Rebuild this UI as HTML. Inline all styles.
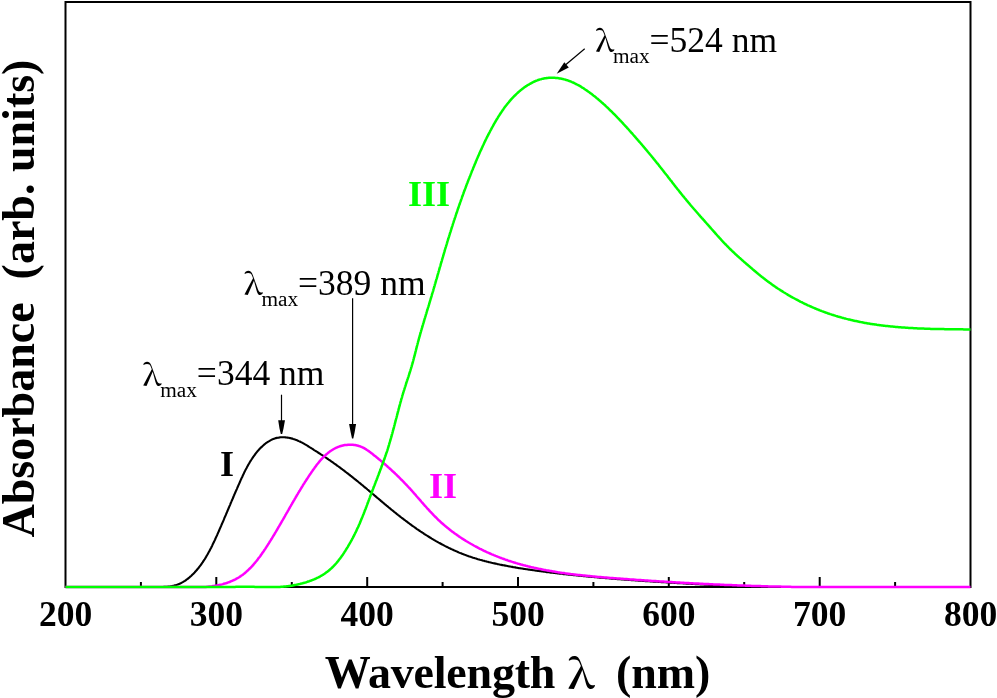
<!DOCTYPE html>
<html><head><meta charset="utf-8"><style>
html,body{margin:0;padding:0;background:#fff;}
svg{display:block;}
svg{font-family:"Liberation Serif","Times New Roman",serif;}
text{white-space:pre;}
</style></head><body>
<svg width="997" height="698" viewBox="0 0 997 698">
<rect x="0" y="0" width="997" height="698" fill="#fff"/>

<g stroke="#000" stroke-width="2" fill="none">
<path d="M65.5,588 V2 H970.5 V588"/>
<path d="M65.5,587 H970.5"/>
<line x1="140.9" y1="587" x2="140.9" y2="582.0"/><line x1="216.3" y1="587" x2="216.3" y2="577.0"/><line x1="291.8" y1="587" x2="291.8" y2="582.0"/><line x1="367.2" y1="587" x2="367.2" y2="577.0"/><line x1="442.6" y1="587" x2="442.6" y2="582.0"/><line x1="518.0" y1="587" x2="518.0" y2="577.0"/><line x1="593.4" y1="587" x2="593.4" y2="582.0"/><line x1="668.8" y1="587" x2="668.8" y2="577.0"/><line x1="744.2" y1="587" x2="744.2" y2="582.0"/><line x1="819.7" y1="587" x2="819.7" y2="577.0"/><line x1="895.1" y1="587" x2="895.1" y2="582.0"/>
</g>
<g fill="none" stroke-linejoin="round" stroke-width="2">
<path d="M65.50,587.00 L150.0,587.0 L151.0,587.0 L151.9,587.0 L152.9,587.0 L153.9,587.0 L154.9,587.0 L155.9,587.0 L156.9,587.0 L158.0,587.0 L159.0,587.0 L160.0,587.0 L161.0,587.0 L162.1,587.0 L163.1,587.0 L164.1,586.9 L165.1,586.9 L166.1,586.8 L167.2,586.7 L168.2,586.6 L169.2,586.5 L170.2,586.4 L171.2,586.2 L172.2,586.0 L173.2,585.8 L174.1,585.6 L175.1,585.3 L176.0,585.1 L177.0,584.8 L177.9,584.4 L178.8,584.1 L179.7,583.7 L180.6,583.3 L181.5,582.8 L182.3,582.4 L183.2,581.9 L184.0,581.4 L184.9,580.9 L185.7,580.3 L186.5,579.7 L187.3,579.2 L188.0,578.6 L188.8,577.9 L189.6,577.3 L190.3,576.6 L191.1,576.0 L191.8,575.3 L192.5,574.6 L193.2,573.9 L193.9,573.2 L194.6,572.5 L195.2,571.8 L195.9,571.0 L196.6,570.3 L197.2,569.5 L197.8,568.8 L198.5,568.0 L199.1,567.2 L199.7,566.4 L200.3,565.6 L200.9,564.8 L201.5,564.0 L202.0,563.2 L202.6,562.4 L203.1,561.6 L203.7,560.7 L204.2,559.9 L204.8,559.1 L205.3,558.2 L205.8,557.4 L206.3,556.5 L206.8,555.6 L207.3,554.8 L207.8,553.9 L208.3,553.0 L208.8,552.1 L209.3,551.2 L209.8,550.4 L210.2,549.5 L210.7,548.6 L211.2,547.7 L211.6,546.8 L212.1,545.9 L212.5,544.9 L212.9,544.0 L213.4,543.1 L213.8,542.2 L214.2,541.3 L214.7,540.4 L215.1,539.5 L215.5,538.5 L215.9,537.6 L216.3,536.7 L216.8,535.8 L217.2,534.9 L217.6,533.9 L218.0,533.0 L218.4,532.1 L218.8,531.2 L219.2,530.3 L219.6,529.3 L220.0,528.4 L220.4,527.5 L220.8,526.6 L221.2,525.7 L221.6,524.7 L222.0,523.8 L222.4,522.9 L222.8,522.0 L223.2,521.1 L223.6,520.2 L224.0,519.2 L224.3,518.3 L224.7,517.4 L225.1,516.5 L225.5,515.6 L225.9,514.7 L226.3,513.7 L226.7,512.8 L227.1,511.9 L227.5,511.0 L227.8,510.1 L228.2,509.2 L228.6,508.3 L229.0,507.3 L229.4,506.4 L229.8,505.5 L230.2,504.6 L230.5,503.7 L230.9,502.8 L231.3,501.9 L231.7,500.9 L232.1,500.0 L232.5,499.1 L232.9,498.2 L233.3,497.3 L233.6,496.4 L234.0,495.5 L234.4,494.5 L234.8,493.6 L235.2,492.7 L235.6,491.8 L236.0,490.9 L236.4,490.0 L236.8,489.1 L237.2,488.1 L237.6,487.2 L238.0,486.3 L238.4,485.4 L238.8,484.5 L239.2,483.6 L239.6,482.7 L240.0,481.8 L240.4,480.8 L240.8,479.9 L241.2,479.0 L241.6,478.1 L242.1,477.2 L242.5,476.3 L242.9,475.4 L243.3,474.5 L243.8,473.5 L244.2,472.6 L244.6,471.7 L245.1,470.8 L245.5,469.9 L246.0,469.0 L246.5,468.2 L246.9,467.3 L247.4,466.4 L247.9,465.5 L248.4,464.6 L248.9,463.8 L249.4,462.9 L249.9,462.0 L250.4,461.2 L251.0,460.3 L251.5,459.5 L252.1,458.6 L252.6,457.8 L253.2,457.0 L253.8,456.1 L254.4,455.3 L255.0,454.5 L255.6,453.7 L256.2,452.9 L256.8,452.1 L257.5,451.3 L258.2,450.6 L258.8,449.8 L259.5,449.1 L260.2,448.3 L260.9,447.6 L261.7,446.9 L262.4,446.2 L263.2,445.5 L263.9,444.8 L264.7,444.2 L265.5,443.5 L266.3,442.9 L267.1,442.4 L267.9,441.8 L268.8,441.3 L269.6,440.8 L270.5,440.3 L271.3,439.9 L272.2,439.4 L273.1,439.1 L274.0,438.7 L274.9,438.4 L275.8,438.1 L276.8,437.9 L277.7,437.7 L278.7,437.6 L279.6,437.4 L280.6,437.3 L281.5,437.3 L282.5,437.3 L283.5,437.3 L284.5,437.3 L285.4,437.4 L286.4,437.5 L287.4,437.6 L288.4,437.8 L289.4,437.9 L290.3,438.1 L291.3,438.4 L292.3,438.6 L293.2,438.9 L294.2,439.2 L295.1,439.6 L296.1,439.9 L297.0,440.3 L297.9,440.7 L298.8,441.1 L299.8,441.5 L300.7,442.0 L301.6,442.4 L302.5,442.9 L303.4,443.4 L304.3,443.9 L305.1,444.4 L306.0,444.9 L306.9,445.4 L307.8,446.0 L308.6,446.5 L309.5,447.1 L310.4,447.6 L311.2,448.1 L312.1,448.7 L312.9,449.2 L313.8,449.8 L314.6,450.3 L315.5,450.8 L316.3,451.4 L317.2,451.9 L318.0,452.5 L318.8,453.0 L319.7,453.5 L320.5,454.1 L321.3,454.6 L322.2,455.2 L323.0,455.7 L323.8,456.3 L324.6,456.8 L325.5,457.4 L326.3,457.9 L327.1,458.5 L327.9,459.0 L328.7,459.6 L329.5,460.1 L330.4,460.7 L331.2,461.3 L332.0,461.8 L332.8,462.4 L333.6,463.0 L334.4,463.6 L335.2,464.1 L336.0,464.7 L336.8,465.3 L337.6,465.9 L338.5,466.5 L339.3,467.1 L340.1,467.7 L340.9,468.3 L341.7,468.9 L342.5,469.5 L343.3,470.1 L344.1,470.7 L344.9,471.3 L345.6,471.9 L346.4,472.5 L347.2,473.1 L348.0,473.7 L348.8,474.3 L349.6,474.9 L350.4,475.6 L351.2,476.2 L352.0,476.8 L352.8,477.4 L353.5,478.1 L354.3,478.7 L355.1,479.3 L355.9,479.9 L356.7,480.6 L357.5,481.2 L358.2,481.8 L359.0,482.5 L359.8,483.1 L360.6,483.7 L361.3,484.4 L362.1,485.0 L362.9,485.6 L363.6,486.3 L364.4,486.9 L365.2,487.6 L366.0,488.2 L366.7,488.8 L367.5,489.5 L368.3,490.1 L369.0,490.8 L369.8,491.4 L370.5,492.1 L371.3,492.7 L372.1,493.3 L372.8,494.0 L373.6,494.6 L374.3,495.3 L375.1,495.9 L375.9,496.6 L376.6,497.2 L377.4,497.9 L378.2,498.5 L378.9,499.1 L379.7,499.8 L380.4,500.4 L381.2,501.1 L382.0,501.7 L382.7,502.4 L383.5,503.0 L384.2,503.6 L385.0,504.3 L385.8,504.9 L386.5,505.6 L387.3,506.2 L388.1,506.8 L388.8,507.5 L389.6,508.1 L390.4,508.7 L391.1,509.4 L391.9,510.0 L392.7,510.6 L393.5,511.3 L394.2,511.9 L395.0,512.5 L395.8,513.1 L396.6,513.8 L397.4,514.4 L398.1,515.0 L398.9,515.6 L399.7,516.2 L400.5,516.9 L401.3,517.5 L402.1,518.1 L402.9,518.7 L403.7,519.3 L404.5,519.9 L405.3,520.5 L406.1,521.1 L406.9,521.7 L407.7,522.3 L408.5,522.9 L409.3,523.5 L410.1,524.1 L410.9,524.7 L411.7,525.3 L412.5,525.9 L413.3,526.4 L414.2,527.0 L415.0,527.6 L415.8,528.2 L416.6,528.8 L417.4,529.3 L418.3,529.9 L419.1,530.5 L419.9,531.0 L420.8,531.6 L421.6,532.1 L422.4,532.7 L423.3,533.2 L424.1,533.8 L424.9,534.3 L425.8,534.9 L426.6,535.4 L427.5,535.9 L428.3,536.5 L429.2,537.0 L430.0,537.5 L430.9,538.0 L431.7,538.6 L432.6,539.1 L433.5,539.6 L434.3,540.1 L435.2,540.6 L436.0,541.1 L436.9,541.6 L437.8,542.1 L438.7,542.6 L439.5,543.0 L440.4,543.5 L441.3,544.0 L442.2,544.5 L443.0,544.9 L443.9,545.4 L444.8,545.9 L445.7,546.3 L446.6,546.8 L447.5,547.2 L448.4,547.7 L449.3,548.1 L450.2,548.5 L451.1,549.0 L452.0,549.4 L452.9,549.8 L453.8,550.2 L454.7,550.6 L455.6,551.0 L456.5,551.4 L457.4,551.8 L458.3,552.2 L459.2,552.6 L460.2,553.0 L461.1,553.3 L462.0,553.7 L462.9,554.1 L463.8,554.4 L464.8,554.8 L465.7,555.1 L466.6,555.5 L467.6,555.8 L468.5,556.2 L469.5,556.5 L470.4,556.8 L471.3,557.1 L472.3,557.4 L473.2,557.7 L474.2,558.0 L475.1,558.3 L476.1,558.6 L477.1,558.9 L478.0,559.2 L479.0,559.5 L479.9,559.8 L480.9,560.0 L481.9,560.3 L482.8,560.6 L483.8,560.8 L484.7,561.1 L485.7,561.3 L486.7,561.6 L487.7,561.8 L488.6,562.1 L489.6,562.3 L490.6,562.5 L491.6,562.8 L492.5,563.0 L493.5,563.2 L494.5,563.4 L495.5,563.6 L496.4,563.8 L497.4,564.1 L498.4,564.3 L499.4,564.5 L500.4,564.7 L501.4,564.9 L502.3,565.1 L503.3,565.3 L504.3,565.4 L505.3,565.6 L506.3,565.8 L507.3,566.0 L508.3,566.2 L509.3,566.4 L510.2,566.5 L511.2,566.7 L512.2,566.9 L513.2,567.1 L514.2,567.2 L515.2,567.4 L516.2,567.6 L517.2,567.7 L518.1,567.9 L519.1,568.1 L520.1,568.2 L521.1,568.4 L522.1,568.5 L523.1,568.7 L524.1,568.9 L525.1,569.0 L526.1,569.2 L527.0,569.3 L528.0,569.5 L529.0,569.6 L530.0,569.8 L531.0,569.9 L532.0,570.0 L533.0,570.2 L534.0,570.3 L535.0,570.5 L536.0,570.6 L536.9,570.7 L537.9,570.9 L538.9,571.0 L539.9,571.1 L540.9,571.3 L541.9,571.4 L542.9,571.5 L543.9,571.7 L544.9,571.8 L545.9,571.9 L546.8,572.1 L547.8,572.2 L548.8,572.3 L549.8,572.4 L550.8,572.6 L551.8,572.7 L552.8,572.8 L553.8,572.9 L554.8,573.0 L555.8,573.1 L556.8,573.3 L557.7,573.4 L558.7,573.5 L559.7,573.6 L560.7,573.7 L561.7,573.8 L562.7,573.9 L563.7,574.1 L564.7,574.2 L565.7,574.3 L566.7,574.4 L567.7,574.5 L568.7,574.6 L569.6,574.7 L570.6,574.8 L571.6,574.9 L572.6,575.0 L573.6,575.1 L574.6,575.2 L575.6,575.3 L576.6,575.4 L577.6,575.5 L578.6,575.6 L579.6,575.7 L580.6,575.8 L581.6,575.9 L582.6,576.0 L583.6,576.1 L584.6,576.2 L585.5,576.3 L586.5,576.4 L587.5,576.5 L588.5,576.6 L589.5,576.7 L590.5,576.8 L591.5,576.9 L592.5,577.0 L593.5,577.0 L594.5,577.1 L595.5,577.2 L596.5,577.3 L597.5,577.4 L598.5,577.5 L599.5,577.6 L600.5,577.7 L601.5,577.7 L602.5,577.8 L603.5,577.9 L604.5,578.0 L605.5,578.1 L606.5,578.2 L607.4,578.3 L608.4,578.3 L609.4,578.4 L610.4,578.5 L611.4,578.6 L612.4,578.7 L613.4,578.7 L614.4,578.8 L615.4,578.9 L616.4,579.0 L617.4,579.1 L618.4,579.1 L619.4,579.2 L620.4,579.3 L621.4,579.4 L622.4,579.4 L623.4,579.5 L624.4,579.6 L625.4,579.7 L626.4,579.7 L627.4,579.8 L628.4,579.9 L629.4,580.0 L630.4,580.0 L631.4,580.1 L632.4,580.2 L633.4,580.2 L634.4,580.3 L635.4,580.4 L636.4,580.4 L637.4,580.5 L638.4,580.6 L639.4,580.7 L640.4,580.7 L641.4,580.8 L642.4,580.9 L643.4,580.9 L644.4,581.0 L645.4,581.1 L646.4,581.1 L647.4,581.2 L648.3,581.3 L649.3,581.3 L650.3,581.4 L651.3,581.5 L652.3,581.5 L653.3,581.6 L654.3,581.6 L655.3,581.7 L656.3,581.8 L657.3,581.8 L658.3,581.9 L659.3,582.0 L660.3,582.0 L661.3,582.1 L662.3,582.1 L663.3,582.2 L664.3,582.3 L665.3,582.3 L666.3,582.4 L667.3,582.5 L668.3,582.5 L669.3,582.6 L670.3,582.6 L671.3,582.7 L672.3,582.8 L673.3,582.8 L674.3,582.9 L675.3,582.9 L676.3,583.0 L677.3,583.1 L678.3,583.1 L679.3,583.2 L680.3,583.2 L681.3,583.3 L682.3,583.3 L683.3,583.4 L684.3,583.5 L685.3,583.5 L686.3,583.6 L687.3,583.6 L688.3,583.7 L689.3,583.7 L690.3,583.8 L691.3,583.9 L692.3,583.9 L693.3,584.0 L694.3,584.0 L695.3,584.1 L696.3,584.1 L697.3,584.2 L698.3,584.3 L699.3,584.3 L700.3,584.4 L701.3,584.4 L702.3,584.5 L703.3,584.5 L704.3,584.6 L705.3,584.6 L706.3,584.7 L707.3,584.8 L708.3,584.8 L709.3,584.9 L710.3,584.9 L711.3,585.0 L712.3,585.0 L713.2,585.1 L714.2,585.1 L715.2,585.2 L716.2,585.2 L717.2,585.3 L718.2,585.3 L719.2,585.4 L720.2,585.4 L721.2,585.5 L722.2,585.5 L723.2,585.6 L724.2,585.6 L725.2,585.7 L726.2,585.7 L727.2,585.8 L728.2,585.8 L729.2,585.9 L730.2,585.9 L731.2,586.0 L732.2,586.0 L733.2,586.0 L734.2,586.1 L735.2,586.1 L736.2,586.2 L737.2,586.2 L738.2,586.2 L739.2,586.3 L740.2,586.3 L741.2,586.4 L742.2,586.4 L743.2,586.4 L744.2,586.5 L745.2,586.5 L746.2,586.5 L747.2,586.6 L748.2,586.6 L749.2,586.6 L750.2,586.7 L751.2,586.7 L752.2,586.7 L753.2,586.7 L754.2,586.8 L755.2,586.8 L756.2,586.8 L757.2,586.8 L758.2,586.8 L759.2,586.9 L760.2,586.9 L761.2,586.9 L762.2,586.9 L763.2,586.9 L764.2,586.9 L765.2,587.0 L766.2,587.0 L767.2,587.0 L768.2,587.0 L769.2,587.0 L770.2,587.0 L771.2,587.0 L772.2,587.0 L773.2,587.0 L774.2,587.0 L775.0,587.0 L970.50,587.00" stroke="#000" stroke-width="2.1"/>
<path d="M65.50,587.00 L190.0,587.0 L191.0,587.0 L192.0,587.0 L192.9,587.0 L193.9,587.0 L194.9,587.0 L195.9,587.0 L196.9,587.0 L197.9,587.0 L198.9,587.0 L199.9,587.0 L200.9,587.0 L201.9,587.0 L203.0,587.0 L204.0,587.0 L205.0,587.0 L206.0,586.9 L207.0,586.8 L208.0,586.7 L209.0,586.6 L210.0,586.5 L211.0,586.4 L212.0,586.3 L213.0,586.1 L214.0,586.0 L215.0,585.8 L216.0,585.7 L217.0,585.5 L218.0,585.3 L219.0,585.1 L220.0,584.8 L220.9,584.6 L221.9,584.4 L222.9,584.1 L223.8,583.8 L224.8,583.6 L225.8,583.3 L226.7,583.0 L227.6,582.6 L228.6,582.3 L229.5,582.0 L230.4,581.6 L231.3,581.2 L232.2,580.8 L233.1,580.4 L234.0,580.0 L234.9,579.6 L235.8,579.1 L236.6,578.6 L237.5,578.2 L238.3,577.7 L239.1,577.2 L240.0,576.6 L240.8,576.1 L241.6,575.5 L242.4,575.0 L243.2,574.4 L243.9,573.8 L244.7,573.2 L245.5,572.5 L246.2,571.9 L246.9,571.2 L247.7,570.6 L248.4,569.9 L249.1,569.2 L249.8,568.5 L250.5,567.8 L251.2,567.1 L251.9,566.4 L252.6,565.6 L253.2,564.9 L253.9,564.1 L254.5,563.3 L255.2,562.6 L255.8,561.8 L256.5,561.0 L257.1,560.2 L257.7,559.4 L258.3,558.6 L258.9,557.8 L259.6,557.0 L260.2,556.2 L260.8,555.3 L261.3,554.5 L261.9,553.7 L262.5,552.8 L263.1,552.0 L263.7,551.2 L264.2,550.3 L264.8,549.5 L265.4,548.6 L265.9,547.8 L266.5,546.9 L267.0,546.1 L267.6,545.2 L268.1,544.4 L268.7,543.5 L269.2,542.7 L269.7,541.8 L270.3,540.9 L270.8,540.1 L271.3,539.2 L271.9,538.4 L272.4,537.5 L272.9,536.7 L273.4,535.8 L274.0,535.0 L274.5,534.1 L275.0,533.2 L275.5,532.4 L276.0,531.5 L276.5,530.7 L277.0,529.8 L277.5,529.0 L278.0,528.1 L278.5,527.2 L279.0,526.4 L279.5,525.5 L280.0,524.7 L280.5,523.8 L281.0,523.0 L281.5,522.1 L282.0,521.2 L282.5,520.4 L283.0,519.5 L283.5,518.7 L284.0,517.8 L284.5,516.9 L285.0,516.1 L285.4,515.2 L285.9,514.4 L286.4,513.5 L286.9,512.6 L287.4,511.8 L287.9,510.9 L288.4,510.1 L288.9,509.2 L289.4,508.4 L289.8,507.5 L290.3,506.6 L290.8,505.8 L291.3,504.9 L291.8,504.1 L292.3,503.2 L292.8,502.3 L293.3,501.5 L293.8,500.6 L294.3,499.8 L294.8,498.9 L295.3,498.1 L295.8,497.2 L296.3,496.3 L296.8,495.5 L297.3,494.6 L297.8,493.8 L298.3,492.9 L298.8,492.1 L299.3,491.2 L299.9,490.4 L300.4,489.5 L300.9,488.7 L301.4,487.8 L301.9,487.0 L302.5,486.1 L303.0,485.2 L303.5,484.4 L304.1,483.5 L304.6,482.7 L305.1,481.8 L305.7,481.0 L306.2,480.2 L306.8,479.3 L307.3,478.5 L307.9,477.6 L308.4,476.8 L309.0,475.9 L309.5,475.1 L310.1,474.2 L310.7,473.4 L311.3,472.5 L311.8,471.7 L312.4,470.9 L313.0,470.0 L313.6,469.2 L314.2,468.4 L314.8,467.5 L315.4,466.7 L316.0,465.9 L316.6,465.1 L317.2,464.3 L317.9,463.5 L318.5,462.7 L319.1,461.9 L319.8,461.1 L320.5,460.3 L321.1,459.6 L321.8,458.8 L322.5,458.1 L323.2,457.4 L323.9,456.7 L324.6,456.0 L325.3,455.3 L326.0,454.7 L326.7,454.0 L327.5,453.4 L328.2,452.8 L329.0,452.2 L329.8,451.6 L330.6,451.0 L331.4,450.5 L332.2,450.0 L333.0,449.5 L333.8,449.0 L334.7,448.5 L335.5,448.1 L336.4,447.7 L337.3,447.3 L338.2,446.9 L339.1,446.6 L340.0,446.3 L340.9,446.0 L341.9,445.7 L342.9,445.5 L343.8,445.3 L344.8,445.1 L345.8,445.0 L346.9,444.9 L347.9,444.8 L348.9,444.7 L349.9,444.7 L351.0,444.7 L352.0,444.8 L353.0,444.8 L354.0,444.9 L355.1,445.1 L356.1,445.3 L357.1,445.5 L358.1,445.7 L359.0,446.0 L360.0,446.3 L360.9,446.7 L361.8,447.0 L362.7,447.5 L363.6,447.9 L364.5,448.4 L365.3,448.9 L366.2,449.4 L367.0,450.0 L367.8,450.5 L368.7,451.1 L369.5,451.7 L370.3,452.3 L371.1,452.9 L371.9,453.5 L372.7,454.1 L373.4,454.8 L374.2,455.4 L375.0,456.0 L375.8,456.6 L376.6,457.3 L377.4,457.9 L378.1,458.5 L378.9,459.2 L379.7,459.8 L380.4,460.4 L381.2,461.1 L382.0,461.7 L382.7,462.4 L383.5,463.0 L384.2,463.7 L385.0,464.3 L385.8,465.0 L386.5,465.6 L387.3,466.3 L388.0,467.0 L388.7,467.6 L389.5,468.3 L390.2,469.0 L391.0,469.6 L391.7,470.3 L392.4,471.0 L393.2,471.7 L393.9,472.3 L394.6,473.0 L395.3,473.7 L396.1,474.4 L396.8,475.1 L397.5,475.8 L398.2,476.5 L398.9,477.2 L399.6,477.9 L400.3,478.6 L401.0,479.3 L401.7,480.0 L402.4,480.7 L403.1,481.4 L403.8,482.1 L404.5,482.9 L405.2,483.6 L405.9,484.3 L406.6,485.0 L407.3,485.8 L408.0,486.5 L408.6,487.2 L409.3,488.0 L410.0,488.7 L410.7,489.4 L411.3,490.2 L412.0,490.9 L412.7,491.7 L413.3,492.4 L414.0,493.2 L414.6,493.9 L415.3,494.7 L416.0,495.4 L416.6,496.2 L417.3,497.0 L417.9,497.7 L418.6,498.5 L419.3,499.2 L419.9,500.0 L420.6,500.7 L421.2,501.5 L421.9,502.3 L422.6,503.0 L423.2,503.8 L423.9,504.5 L424.5,505.3 L425.2,506.0 L425.9,506.8 L426.5,507.5 L427.2,508.3 L427.9,509.0 L428.6,509.7 L429.2,510.5 L429.9,511.2 L430.6,512.0 L431.3,512.7 L432.0,513.4 L432.7,514.1 L433.4,514.9 L434.1,515.6 L434.8,516.3 L435.5,517.0 L436.2,517.7 L436.9,518.4 L437.6,519.1 L438.3,519.8 L439.0,520.5 L439.8,521.1 L440.5,521.8 L441.2,522.5 L442.0,523.2 L442.7,523.8 L443.5,524.5 L444.2,525.1 L445.0,525.8 L445.8,526.4 L446.5,527.1 L447.3,527.7 L448.1,528.3 L448.9,528.9 L449.6,529.6 L450.4,530.2 L451.2,530.8 L452.0,531.4 L452.8,532.0 L453.6,532.6 L454.4,533.2 L455.2,533.8 L456.0,534.3 L456.9,534.9 L457.7,535.5 L458.5,536.1 L459.3,536.6 L460.2,537.2 L461.0,537.7 L461.8,538.3 L462.7,538.8 L463.5,539.4 L464.3,539.9 L465.2,540.4 L466.0,541.0 L466.9,541.5 L467.8,542.0 L468.6,542.5 L469.5,543.0 L470.3,543.5 L471.2,544.0 L472.1,544.5 L473.0,545.0 L473.8,545.5 L474.7,546.0 L475.6,546.5 L476.5,546.9 L477.4,547.4 L478.2,547.9 L479.1,548.3 L480.0,548.8 L480.9,549.2 L481.8,549.7 L482.7,550.1 L483.6,550.6 L484.5,551.0 L485.4,551.4 L486.3,551.8 L487.3,552.3 L488.2,552.7 L489.1,553.1 L490.0,553.5 L490.9,553.9 L491.8,554.3 L492.8,554.7 L493.7,555.1 L494.6,555.4 L495.5,555.8 L496.5,556.2 L497.4,556.6 L498.3,556.9 L499.3,557.3 L500.2,557.7 L501.1,558.0 L502.1,558.4 L503.0,558.7 L503.9,559.0 L504.9,559.4 L505.8,559.7 L506.8,560.0 L507.7,560.4 L508.6,560.7 L509.6,561.0 L510.5,561.3 L511.5,561.6 L512.4,561.9 L513.4,562.2 L514.3,562.5 L515.3,562.8 L516.2,563.1 L517.2,563.4 L518.2,563.7 L519.1,563.9 L520.1,564.2 L521.0,564.5 L522.0,564.7 L522.9,565.0 L523.9,565.3 L524.9,565.5 L525.8,565.8 L526.8,566.0 L527.8,566.3 L528.7,566.5 L529.7,566.7 L530.7,567.0 L531.6,567.2 L532.6,567.4 L533.6,567.6 L534.5,567.9 L535.5,568.1 L536.5,568.3 L537.4,568.5 L538.4,568.7 L539.4,568.9 L540.4,569.1 L541.3,569.3 L542.3,569.5 L543.3,569.7 L544.3,569.9 L545.3,570.1 L546.2,570.3 L547.2,570.4 L548.2,570.6 L549.2,570.8 L550.2,571.0 L551.1,571.1 L552.1,571.3 L553.1,571.5 L554.1,571.6 L555.1,571.8 L556.1,572.0 L557.1,572.1 L558.0,572.3 L559.0,572.4 L560.0,572.6 L561.0,572.7 L562.0,572.9 L563.0,573.0 L564.0,573.1 L565.0,573.3 L566.0,573.4 L566.9,573.6 L567.9,573.7 L568.9,573.8 L569.9,573.9 L570.9,574.1 L571.9,574.2 L572.9,574.3 L573.9,574.4 L574.9,574.5 L575.9,574.7 L576.9,574.8 L577.9,574.9 L578.9,575.0 L579.9,575.1 L580.9,575.2 L581.9,575.3 L582.9,575.4 L583.9,575.5 L584.9,575.6 L585.9,575.7 L586.9,575.8 L587.9,575.9 L588.8,576.0 L589.8,576.1 L590.8,576.2 L591.8,576.3 L592.8,576.4 L593.8,576.5 L594.8,576.6 L595.8,576.7 L596.8,576.8 L597.8,576.9 L598.8,577.0 L599.8,577.0 L600.8,577.1 L601.8,577.2 L602.8,577.3 L603.8,577.4 L604.8,577.5 L605.8,577.5 L606.8,577.6 L607.9,577.7 L608.9,577.8 L609.9,577.9 L610.9,577.9 L611.9,578.0 L612.9,578.1 L613.9,578.2 L614.9,578.2 L615.9,578.3 L616.9,578.4 L617.9,578.5 L618.9,578.5 L619.9,578.6 L620.9,578.7 L621.9,578.8 L622.9,578.8 L623.9,578.9 L624.9,579.0 L625.9,579.1 L626.9,579.1 L627.9,579.2 L628.9,579.3 L629.9,579.4 L630.9,579.4 L631.8,579.5 L632.8,579.6 L633.8,579.6 L634.8,579.7 L635.8,579.8 L636.8,579.9 L637.8,579.9 L638.8,580.0 L639.8,580.1 L640.8,580.1 L641.8,580.2 L642.8,580.3 L643.8,580.3 L644.8,580.4 L645.8,580.5 L646.8,580.5 L647.8,580.6 L648.8,580.7 L649.8,580.7 L650.8,580.8 L651.8,580.9 L652.8,580.9 L653.8,581.0 L654.8,581.1 L655.8,581.1 L656.8,581.2 L657.8,581.3 L658.8,581.3 L659.8,581.4 L660.8,581.5 L661.8,581.5 L662.8,581.6 L663.8,581.6 L664.8,581.7 L665.8,581.8 L666.8,581.8 L667.8,581.9 L668.8,582.0 L669.8,582.0 L670.8,582.1 L671.8,582.1 L672.8,582.2 L673.8,582.3 L674.8,582.3 L675.8,582.4 L676.8,582.4 L677.7,582.5 L678.7,582.5 L679.7,582.6 L680.7,582.7 L681.7,582.7 L682.7,582.8 L683.7,582.8 L684.7,582.9 L685.7,582.9 L686.7,583.0 L687.7,583.1 L688.7,583.1 L689.7,583.2 L690.7,583.2 L691.7,583.3 L692.7,583.3 L693.7,583.4 L694.7,583.4 L695.7,583.5 L696.7,583.5 L697.7,583.6 L698.7,583.6 L699.7,583.7 L700.7,583.7 L701.7,583.8 L702.7,583.8 L703.7,583.9 L704.7,583.9 L705.7,584.0 L706.7,584.0 L707.7,584.1 L708.7,584.1 L709.6,584.2 L710.6,584.2 L711.6,584.3 L712.6,584.3 L713.6,584.4 L714.6,584.4 L715.6,584.5 L716.6,584.5 L717.6,584.5 L718.6,584.6 L719.6,584.6 L720.6,584.7 L721.6,584.7 L722.6,584.8 L723.6,584.8 L724.6,584.9 L725.6,584.9 L726.6,584.9 L727.6,585.0 L728.6,585.0 L729.6,585.1 L730.6,585.1 L731.6,585.1 L732.6,585.2 L733.6,585.2 L734.6,585.3 L735.6,585.3 L736.6,585.3 L737.6,585.4 L738.6,585.4 L739.6,585.4 L740.6,585.5 L741.6,585.5 L742.6,585.6 L743.6,585.6 L744.6,585.6 L745.6,585.7 L746.6,585.7 L747.6,585.7 L748.6,585.8 L749.6,585.8 L750.6,585.8 L751.6,585.9 L752.6,585.9 L753.6,585.9 L754.6,586.0 L755.6,586.0 L756.6,586.0 L757.6,586.1 L758.5,586.1 L759.5,586.1 L760.5,586.1 L761.5,586.2 L762.5,586.2 L763.5,586.2 L764.5,586.3 L765.5,586.3 L766.5,586.3 L767.5,586.3 L768.5,586.4 L769.5,586.4 L770.5,586.4 L771.5,586.4 L772.5,586.5 L773.5,586.5 L774.6,586.5 L775.6,586.5 L776.6,586.6 L777.6,586.6 L778.6,586.6 L779.6,586.6 L780.6,586.6 L781.6,586.7 L782.6,586.7 L783.6,586.7 L784.6,586.7 L785.6,586.8 L786.6,586.8 L787.6,586.8 L788.6,586.8 L789.6,586.8 L790.6,586.8 L791.6,586.9 L792.6,586.9 L793.6,586.9 L794.6,586.9 L795.6,586.9 L796.6,586.9 L797.0,586.9 L970.50,587.00" stroke="#f0f" stroke-width="2.5"/>
<path d="M65.50,587.00 L200.0,587.0 L201.0,587.0 L202.0,587.0 L203.0,587.0 L204.0,587.0 L205.0,587.0 L206.0,587.0 L207.0,587.0 L208.0,587.0 L209.0,587.0 L210.0,587.0 L211.0,587.0 L212.0,587.0 L213.0,587.0 L214.0,587.0 L215.0,587.0 L216.0,587.0 L217.0,587.0 L218.0,587.0 L219.0,587.0 L220.0,587.0 L221.0,587.0 L222.0,587.0 L223.0,587.0 L224.0,587.0 L225.0,586.9 L226.0,586.9 L227.0,586.9 L228.0,586.9 L229.0,586.9 L230.0,586.9 L231.0,586.9 L232.0,586.9 L233.0,586.9 L234.0,586.9 L235.0,586.9 L236.0,586.8 L237.0,586.8 L238.0,586.8 L239.0,586.8 L240.0,586.8 L241.0,586.8 L242.0,586.8 L243.0,586.8 L244.0,586.8 L245.0,586.8 L246.0,586.8 L247.0,586.8 L248.0,586.8 L249.0,586.8 L250.0,586.8 L251.0,586.8 L252.0,586.8 L253.0,586.8 L254.0,586.8 L255.0,586.9 L256.0,586.9 L257.0,586.9 L258.0,586.9 L259.0,586.9 L260.0,586.9 L261.0,587.0 L262.0,587.0 L263.0,587.0 L264.0,587.0 L265.0,587.0 L266.0,587.0 L267.0,587.0 L268.0,587.0 L269.0,587.0 L270.0,587.0 L271.0,587.0 L272.0,587.0 L273.0,587.0 L274.0,587.0 L275.0,587.0 L276.0,587.0 L277.0,587.0 L278.0,587.0 L279.0,586.9 L280.0,586.9 L281.0,586.8 L282.0,586.8 L283.0,586.7 L283.9,586.6 L284.9,586.5 L285.9,586.4 L286.9,586.3 L287.9,586.2 L288.9,586.1 L289.9,586.0 L290.8,585.8 L291.8,585.7 L292.8,585.5 L293.8,585.3 L294.8,585.1 L295.7,584.9 L296.7,584.7 L297.7,584.5 L298.7,584.3 L299.6,584.1 L300.6,583.8 L301.6,583.6 L302.6,583.3 L303.5,583.0 L304.5,582.7 L305.4,582.5 L306.4,582.2 L307.4,581.8 L308.3,581.5 L309.3,581.2 L310.2,580.8 L311.2,580.5 L312.1,580.1 L313.0,579.8 L314.0,579.4 L314.9,579.0 L315.8,578.6 L316.7,578.1 L317.6,577.7 L318.5,577.3 L319.4,576.8 L320.3,576.3 L321.1,575.8 L322.0,575.3 L322.8,574.8 L323.7,574.3 L324.5,573.8 L325.3,573.2 L326.1,572.6 L326.9,572.0 L327.7,571.4 L328.5,570.8 L329.2,570.2 L330.0,569.5 L330.7,568.9 L331.5,568.2 L332.2,567.5 L332.9,566.8 L333.6,566.1 L334.3,565.4 L335.0,564.7 L335.6,564.0 L336.3,563.2 L336.9,562.4 L337.6,561.7 L338.2,560.9 L338.8,560.1 L339.4,559.3 L340.1,558.5 L340.6,557.7 L341.2,556.9 L341.8,556.1 L342.4,555.2 L343.0,554.4 L343.5,553.6 L344.1,552.7 L344.6,551.9 L345.2,551.0 L345.7,550.2 L346.2,549.3 L346.8,548.5 L347.3,547.6 L347.8,546.8 L348.3,545.9 L348.8,545.0 L349.3,544.2 L349.8,543.3 L350.3,542.4 L350.8,541.6 L351.3,540.7 L351.8,539.8 L352.2,538.9 L352.7,538.1 L353.2,537.2 L353.6,536.3 L354.1,535.4 L354.5,534.5 L355.0,533.6 L355.4,532.7 L355.9,531.8 L356.3,530.9 L356.7,530.0 L357.1,529.1 L357.5,528.2 L358.0,527.3 L358.4,526.4 L358.8,525.5 L359.2,524.6 L359.6,523.7 L360.0,522.7 L360.4,521.8 L360.7,520.9 L361.1,520.0 L361.5,519.1 L361.9,518.1 L362.3,517.2 L362.6,516.3 L363.0,515.4 L363.4,514.4 L363.8,513.5 L364.1,512.6 L364.5,511.7 L364.8,510.7 L365.2,509.8 L365.6,508.9 L365.9,507.9 L366.3,507.0 L366.6,506.1 L367.0,505.1 L367.3,504.2 L367.7,503.3 L368.0,502.3 L368.4,501.4 L368.7,500.4 L369.1,499.5 L369.4,498.6 L369.8,497.6 L370.1,496.7 L370.5,495.8 L370.8,494.8 L371.2,493.9 L371.5,493.0 L371.9,492.0 L372.3,491.1 L372.6,490.1 L373.0,489.2 L373.3,488.3 L373.7,487.3 L374.0,486.4 L374.4,485.5 L374.8,484.5 L375.1,483.6 L375.5,482.7 L375.8,481.7 L376.2,480.8 L376.6,479.9 L376.9,478.9 L377.3,478.0 L377.6,477.1 L378.0,476.1 L378.4,475.2 L378.7,474.3 L379.1,473.3 L379.4,472.4 L379.8,471.5 L380.1,470.5 L380.5,469.6 L380.8,468.7 L381.2,467.7 L381.5,466.8 L381.9,465.8 L382.2,464.9 L382.6,464.0 L382.9,463.0 L383.3,462.1 L383.6,461.1 L383.9,460.2 L384.3,459.3 L384.6,458.3 L384.9,457.4 L385.3,456.4 L385.6,455.5 L385.9,454.5 L386.2,453.6 L386.5,452.7 L386.9,451.7 L387.2,450.8 L387.5,449.8 L387.8,448.9 L388.1,447.9 L388.4,446.9 L388.7,446.0 L389.0,445.0 L389.2,444.1 L389.5,443.1 L389.8,442.2 L390.1,441.2 L390.4,440.2 L390.6,439.3 L390.9,438.3 L391.2,437.4 L391.5,436.4 L391.7,435.4 L392.0,434.5 L392.3,433.5 L392.5,432.5 L392.8,431.6 L393.0,430.6 L393.3,429.6 L393.6,428.7 L393.8,427.7 L394.1,426.8 L394.3,425.8 L394.6,424.8 L394.8,423.8 L395.1,422.9 L395.3,421.9 L395.6,420.9 L395.8,420.0 L396.1,419.0 L396.4,418.0 L396.6,417.1 L396.9,416.1 L397.1,415.1 L397.4,414.2 L397.6,413.2 L397.9,412.2 L398.1,411.3 L398.4,410.3 L398.6,409.3 L398.9,408.4 L399.1,407.4 L399.4,406.4 L399.7,405.5 L399.9,404.5 L400.2,403.5 L400.4,402.6 L400.7,401.6 L401.0,400.6 L401.2,399.7 L401.5,398.7 L401.8,397.8 L402.1,396.8 L402.3,395.8 L402.6,394.9 L402.9,393.9 L403.2,393.0 L403.5,392.0 L403.8,391.0 L404.1,390.1 L404.4,389.1 L404.7,388.2 L405.0,387.2 L405.3,386.3 L405.6,385.3 L405.9,384.4 L406.2,383.4 L406.5,382.5 L406.8,381.5 L407.1,380.6 L407.4,379.6 L407.8,378.7 L408.1,377.7 L408.4,376.8 L408.7,375.8 L409.0,374.9 L409.3,373.9 L409.6,373.0 L409.9,372.0 L410.2,371.1 L410.5,370.1 L410.8,369.2 L411.1,368.2 L411.4,367.2 L411.7,366.3 L411.9,365.3 L412.2,364.4 L412.5,363.4 L412.8,362.4 L413.0,361.5 L413.3,360.5 L413.5,359.5 L413.8,358.6 L414.0,357.6 L414.3,356.6 L414.6,355.7 L414.8,354.7 L415.1,353.7 L415.3,352.8 L415.5,351.8 L415.8,350.8 L416.0,349.9 L416.3,348.9 L416.5,347.9 L416.8,346.9 L417.0,346.0 L417.3,345.0 L417.5,344.0 L417.8,343.1 L418.0,342.1 L418.3,341.1 L418.6,340.2 L418.8,339.2 L419.1,338.2 L419.3,337.3 L419.6,336.3 L419.9,335.4 L420.1,334.4 L420.4,333.4 L420.7,332.5 L421.0,331.5 L421.2,330.5 L421.5,329.6 L421.8,328.6 L422.1,327.7 L422.4,326.7 L422.6,325.7 L422.9,324.8 L423.2,323.8 L423.5,322.9 L423.8,321.9 L424.1,320.9 L424.3,320.0 L424.6,319.0 L424.9,318.1 L425.2,317.1 L425.5,316.2 L425.8,315.2 L426.1,314.2 L426.4,313.3 L426.6,312.3 L426.9,311.4 L427.2,310.4 L427.5,309.5 L427.8,308.5 L428.1,307.5 L428.4,306.6 L428.7,305.6 L429.0,304.7 L429.3,303.7 L429.5,302.8 L429.8,301.8 L430.1,300.8 L430.4,299.9 L430.7,298.9 L431.0,298.0 L431.3,297.0 L431.6,296.1 L431.8,295.1 L432.1,294.1 L432.4,293.2 L432.7,292.2 L433.0,291.3 L433.3,290.3 L433.5,289.3 L433.8,288.4 L434.1,287.4 L434.4,286.5 L434.7,285.5 L434.9,284.5 L435.2,283.6 L435.5,282.6 L435.8,281.7 L436.0,280.7 L436.3,279.7 L436.6,278.8 L436.9,277.8 L437.2,276.9 L437.4,275.9 L437.7,274.9 L438.0,274.0 L438.3,273.0 L438.5,272.0 L438.8,271.1 L439.1,270.1 L439.4,269.2 L439.6,268.2 L439.9,267.2 L440.2,266.3 L440.5,265.3 L440.7,264.4 L441.0,263.4 L441.3,262.4 L441.6,261.5 L441.9,260.5 L442.1,259.6 L442.4,258.6 L442.7,257.6 L443.0,256.7 L443.3,255.7 L443.5,254.8 L443.8,253.8 L444.1,252.8 L444.4,251.9 L444.7,250.9 L444.9,250.0 L445.2,249.0 L445.5,248.0 L445.8,247.1 L446.1,246.1 L446.4,245.2 L446.7,244.2 L447.0,243.3 L447.2,242.3 L447.5,241.3 L447.8,240.4 L448.1,239.4 L448.4,238.5 L448.7,237.5 L449.0,236.6 L449.3,235.6 L449.6,234.7 L449.9,233.7 L450.2,232.7 L450.5,231.8 L450.8,230.8 L451.1,229.9 L451.4,228.9 L451.7,228.0 L452.0,227.0 L452.3,226.1 L452.6,225.1 L452.9,224.2 L453.2,223.2 L453.5,222.3 L453.8,221.3 L454.1,220.4 L454.5,219.4 L454.8,218.5 L455.1,217.5 L455.4,216.6 L455.7,215.6 L456.0,214.7 L456.3,213.7 L456.7,212.8 L457.0,211.8 L457.3,210.9 L457.6,209.9 L457.9,209.0 L458.3,208.1 L458.6,207.1 L458.9,206.2 L459.2,205.2 L459.6,204.3 L459.9,203.3 L460.2,202.4 L460.6,201.4 L460.9,200.5 L461.2,199.6 L461.6,198.6 L461.9,197.7 L462.2,196.7 L462.6,195.8 L462.9,194.9 L463.3,193.9 L463.6,193.0 L463.9,192.0 L464.3,191.1 L464.6,190.2 L465.0,189.2 L465.3,188.3 L465.7,187.4 L466.0,186.4 L466.4,185.5 L466.7,184.5 L467.1,183.6 L467.5,182.7 L467.8,181.7 L468.2,180.8 L468.5,179.9 L468.9,178.9 L469.3,178.0 L469.6,177.1 L470.0,176.2 L470.4,175.2 L470.7,174.3 L471.1,173.4 L471.5,172.4 L471.8,171.5 L472.2,170.6 L472.6,169.7 L473.0,168.7 L473.3,167.8 L473.7,166.9 L474.1,166.0 L474.5,165.0 L474.9,164.1 L475.3,163.2 L475.7,162.3 L476.0,161.3 L476.4,160.4 L476.8,159.5 L477.2,158.6 L477.6,157.6 L478.0,156.7 L478.4,155.8 L478.8,154.9 L479.2,154.0 L479.6,153.1 L480.0,152.1 L480.4,151.2 L480.8,150.3 L481.3,149.4 L481.7,148.5 L482.1,147.6 L482.5,146.7 L482.9,145.8 L483.4,144.8 L483.8,143.9 L484.2,143.0 L484.6,142.1 L485.1,141.2 L485.5,140.3 L485.9,139.4 L486.4,138.5 L486.8,137.6 L487.3,136.7 L487.7,135.8 L488.2,135.0 L488.6,134.1 L489.1,133.2 L489.6,132.3 L490.0,131.4 L490.5,130.5 L491.0,129.6 L491.4,128.8 L491.9,127.9 L492.4,127.0 L492.9,126.1 L493.3,125.3 L493.8,124.4 L494.3,123.5 L494.8,122.7 L495.3,121.8 L495.8,121.0 L496.3,120.1 L496.8,119.2 L497.4,118.4 L497.9,117.5 L498.4,116.7 L498.9,115.9 L499.5,115.0 L500.0,114.2 L500.6,113.3 L501.1,112.5 L501.7,111.7 L502.2,110.9 L502.8,110.1 L503.4,109.2 L503.9,108.4 L504.5,107.6 L505.1,106.8 L505.7,106.0 L506.3,105.3 L506.9,104.5 L507.5,103.7 L508.2,102.9 L508.8,102.2 L509.4,101.4 L510.1,100.6 L510.7,99.9 L511.4,99.1 L512.1,98.4 L512.8,97.7 L513.5,96.9 L514.2,96.2 L514.9,95.5 L515.6,94.8 L516.3,94.1 L517.1,93.4 L517.8,92.7 L518.6,92.0 L519.3,91.4 L520.1,90.7 L520.9,90.1 L521.7,89.4 L522.5,88.8 L523.3,88.2 L524.1,87.6 L524.9,87.0 L525.8,86.4 L526.6,85.9 L527.5,85.3 L528.3,84.8 L529.2,84.3 L530.0,83.8 L530.9,83.3 L531.8,82.8 L532.7,82.3 L533.6,81.9 L534.5,81.5 L535.4,81.1 L536.3,80.7 L537.3,80.4 L538.2,80.0 L539.1,79.7 L540.1,79.4 L541.0,79.2 L542.0,78.9 L542.9,78.7 L543.9,78.5 L544.9,78.3 L545.9,78.2 L546.8,78.0 L547.8,77.9 L548.8,77.8 L549.8,77.8 L550.8,77.7 L551.8,77.7 L552.8,77.7 L553.8,77.8 L554.7,77.8 L555.7,77.9 L556.7,78.0 L557.7,78.1 L558.7,78.2 L559.7,78.4 L560.7,78.5 L561.6,78.7 L562.6,78.9 L563.6,79.2 L564.5,79.4 L565.5,79.7 L566.4,80.0 L567.4,80.3 L568.3,80.6 L569.3,81.0 L570.2,81.3 L571.1,81.7 L572.0,82.1 L573.0,82.5 L573.9,82.9 L574.8,83.4 L575.7,83.8 L576.6,84.3 L577.5,84.7 L578.3,85.2 L579.2,85.7 L580.1,86.2 L581.0,86.7 L581.8,87.3 L582.7,87.8 L583.5,88.3 L584.4,88.9 L585.2,89.5 L586.0,90.0 L586.9,90.6 L587.7,91.2 L588.5,91.8 L589.3,92.3 L590.1,92.9 L590.9,93.5 L591.7,94.1 L592.5,94.7 L593.3,95.4 L594.1,96.0 L594.9,96.6 L595.7,97.2 L596.4,97.9 L597.2,98.5 L598.0,99.1 L598.7,99.8 L599.5,100.4 L600.2,101.1 L601.0,101.7 L601.7,102.4 L602.5,103.0 L603.2,103.7 L604.0,104.4 L604.7,105.0 L605.4,105.7 L606.1,106.4 L606.9,107.1 L607.6,107.7 L608.3,108.4 L609.0,109.1 L609.7,109.8 L610.4,110.5 L611.2,111.2 L611.9,111.9 L612.6,112.6 L613.3,113.3 L614.0,114.0 L614.7,114.7 L615.4,115.4 L616.1,116.1 L616.8,116.8 L617.5,117.6 L618.2,118.3 L618.8,119.0 L619.5,119.7 L620.2,120.5 L620.9,121.2 L621.6,121.9 L622.3,122.6 L623.0,123.4 L623.6,124.1 L624.3,124.8 L625.0,125.6 L625.7,126.3 L626.4,127.0 L627.0,127.8 L627.7,128.5 L628.4,129.3 L629.0,130.0 L629.7,130.8 L630.4,131.5 L631.0,132.3 L631.7,133.0 L632.4,133.7 L633.0,134.5 L633.7,135.3 L634.4,136.0 L635.0,136.8 L635.7,137.5 L636.3,138.3 L637.0,139.0 L637.6,139.8 L638.3,140.5 L638.9,141.3 L639.6,142.0 L640.3,142.8 L640.9,143.6 L641.6,144.3 L642.2,145.1 L642.8,145.8 L643.5,146.6 L644.1,147.4 L644.8,148.1 L645.4,148.9 L646.1,149.7 L646.7,150.4 L647.4,151.2 L648.0,152.0 L648.6,152.7 L649.3,153.5 L649.9,154.3 L650.5,155.0 L651.2,155.8 L651.8,156.6 L652.4,157.3 L653.1,158.1 L653.7,158.9 L654.3,159.7 L655.0,160.4 L655.6,161.2 L656.2,162.0 L656.8,162.8 L657.5,163.5 L658.1,164.3 L658.7,165.1 L659.3,165.9 L660.0,166.7 L660.6,167.5 L661.2,168.2 L661.8,169.0 L662.4,169.8 L663.1,170.6 L663.7,171.4 L664.3,172.2 L664.9,173.0 L665.5,173.7 L666.1,174.5 L666.8,175.3 L667.4,176.1 L668.0,176.9 L668.6,177.7 L669.2,178.5 L669.8,179.3 L670.4,180.1 L671.1,180.8 L671.7,181.6 L672.3,182.4 L672.9,183.2 L673.5,184.0 L674.1,184.8 L674.7,185.6 L675.4,186.4 L676.0,187.2 L676.6,187.9 L677.2,188.7 L677.8,189.5 L678.5,190.3 L679.1,191.1 L679.7,191.9 L680.3,192.6 L681.0,193.4 L681.6,194.2 L682.2,195.0 L682.8,195.8 L683.5,196.5 L684.1,197.3 L684.7,198.1 L685.4,198.8 L686.0,199.6 L686.6,200.4 L687.3,201.1 L687.9,201.9 L688.6,202.7 L689.2,203.4 L689.9,204.2 L690.5,205.0 L691.1,205.7 L691.8,206.5 L692.4,207.2 L693.1,208.0 L693.7,208.7 L694.4,209.5 L695.1,210.3 L695.7,211.0 L696.4,211.8 L697.0,212.5 L697.7,213.3 L698.3,214.0 L699.0,214.8 L699.7,215.5 L700.3,216.3 L701.0,217.0 L701.6,217.8 L702.3,218.5 L703.0,219.2 L703.6,220.0 L704.3,220.7 L704.9,221.5 L705.6,222.2 L706.3,223.0 L706.9,223.7 L707.6,224.5 L708.3,225.2 L708.9,226.0 L709.6,226.7 L710.2,227.5 L710.9,228.2 L711.6,229.0 L712.2,229.7 L712.9,230.5 L713.6,231.2 L714.2,232.0 L714.9,232.7 L715.5,233.5 L716.2,234.2 L716.9,235.0 L717.5,235.7 L718.2,236.5 L718.9,237.2 L719.5,237.9 L720.2,238.7 L720.9,239.4 L721.6,240.2 L722.2,240.9 L722.9,241.6 L723.6,242.4 L724.3,243.1 L725.0,243.8 L725.7,244.5 L726.4,245.2 L727.1,246.0 L727.8,246.7 L728.5,247.4 L729.2,248.1 L729.9,248.8 L730.6,249.5 L731.3,250.2 L732.0,250.9 L732.7,251.5 L733.5,252.2 L734.2,252.9 L734.9,253.6 L735.6,254.3 L736.4,254.9 L737.1,255.6 L737.8,256.3 L738.6,256.9 L739.3,257.6 L740.1,258.3 L740.8,258.9 L741.6,259.6 L742.3,260.3 L743.0,260.9 L743.8,261.6 L744.5,262.2 L745.3,262.9 L746.0,263.5 L746.8,264.2 L747.5,264.8 L748.3,265.5 L749.1,266.1 L749.8,266.8 L750.6,267.4 L751.3,268.1 L752.1,268.7 L752.8,269.4 L753.6,270.0 L754.4,270.7 L755.1,271.3 L755.9,272.0 L756.6,272.6 L757.4,273.2 L758.2,273.9 L758.9,274.5 L759.7,275.1 L760.5,275.8 L761.3,276.4 L762.0,277.0 L762.8,277.6 L763.6,278.2 L764.4,278.8 L765.2,279.5 L766.0,280.1 L766.8,280.7 L767.6,281.3 L768.4,281.9 L769.2,282.4 L770.0,283.0 L770.8,283.6 L771.6,284.2 L772.4,284.8 L773.2,285.4 L774.1,285.9 L774.9,286.5 L775.7,287.1 L776.5,287.6 L777.4,288.2 L778.2,288.7 L779.1,289.3 L779.9,289.8 L780.7,290.4 L781.6,290.9 L782.4,291.4 L783.3,292.0 L784.1,292.5 L785.0,293.0 L785.8,293.5 L786.7,294.0 L787.6,294.6 L788.4,295.1 L789.3,295.6 L790.2,296.1 L791.0,296.6 L791.9,297.1 L792.8,297.6 L793.6,298.0 L794.5,298.5 L795.4,299.0 L796.3,299.5 L797.2,299.9 L798.1,300.4 L799.0,300.9 L799.8,301.3 L800.7,301.8 L801.6,302.2 L802.5,302.7 L803.4,303.1 L804.3,303.6 L805.2,304.0 L806.1,304.4 L807.0,304.8 L807.9,305.3 L808.9,305.7 L809.8,306.1 L810.7,306.5 L811.6,306.9 L812.5,307.3 L813.4,307.7 L814.4,308.1 L815.3,308.5 L816.2,308.9 L817.1,309.3 L818.1,309.6 L819.0,310.0 L819.9,310.4 L820.8,310.7 L821.8,311.1 L822.7,311.4 L823.6,311.8 L824.6,312.1 L825.5,312.5 L826.5,312.8 L827.4,313.1 L828.3,313.5 L829.3,313.8 L830.2,314.1 L831.2,314.4 L832.1,314.7 L833.1,315.0 L834.0,315.3 L835.0,315.6 L835.9,315.9 L836.9,316.2 L837.8,316.5 L838.8,316.8 L839.7,317.1 L840.7,317.3 L841.7,317.6 L842.6,317.9 L843.6,318.1 L844.5,318.4 L845.5,318.6 L846.5,318.9 L847.4,319.1 L848.4,319.4 L849.4,319.6 L850.3,319.8 L851.3,320.1 L852.3,320.3 L853.2,320.5 L854.2,320.7 L855.2,320.9 L856.2,321.1 L857.1,321.3 L858.1,321.5 L859.1,321.7 L860.1,321.9 L861.0,322.1 L862.0,322.3 L863.0,322.5 L864.0,322.7 L865.0,322.9 L865.9,323.0 L866.9,323.2 L867.9,323.4 L868.9,323.5 L869.9,323.7 L870.9,323.9 L871.8,324.0 L872.8,324.2 L873.8,324.3 L874.8,324.5 L875.8,324.6 L876.8,324.8 L877.8,324.9 L878.8,325.0 L879.8,325.2 L880.8,325.3 L881.7,325.4 L882.7,325.5 L883.7,325.7 L884.7,325.8 L885.7,325.9 L886.7,326.0 L887.7,326.1 L888.7,326.2 L889.7,326.3 L890.7,326.4 L891.7,326.5 L892.7,326.6 L893.7,326.7 L894.7,326.8 L895.7,326.9 L896.7,327.0 L897.7,327.1 L898.7,327.2 L899.7,327.2 L900.7,327.3 L901.7,327.4 L902.7,327.5 L903.7,327.5 L904.7,327.6 L905.7,327.7 L906.7,327.8 L907.7,327.8 L908.7,327.9 L909.7,327.9 L910.7,328.0 L911.7,328.1 L912.7,328.1 L913.7,328.2 L914.7,328.2 L915.7,328.3 L916.7,328.3 L917.7,328.4 L918.7,328.4 L919.7,328.5 L920.7,328.5 L921.7,328.5 L922.7,328.6 L923.7,328.6 L924.7,328.7 L925.8,328.7 L926.8,328.7 L927.8,328.8 L928.8,328.8 L929.8,328.8 L930.8,328.9 L931.8,328.9 L932.8,328.9 L933.8,328.9 L934.8,329.0 L935.8,329.0 L936.8,329.0 L937.8,329.0 L938.8,329.0 L939.8,329.1 L940.8,329.1 L941.8,329.1 L942.8,329.1 L943.8,329.1 L944.8,329.2 L945.8,329.2 L946.8,329.2 L947.8,329.2 L948.8,329.2 L949.8,329.2 L950.8,329.2 L951.8,329.2 L952.8,329.3 L953.8,329.3 L954.8,329.3 L955.8,329.3 L956.8,329.3 L957.8,329.3 L958.8,329.3 L959.8,329.3 L960.8,329.3 L961.8,329.3 L962.7,329.3 L963.7,329.4 L964.7,329.4 L965.7,329.4 L966.7,329.4 L967.7,329.4 L968.7,329.4 L969.7,329.4 L970.5,329.4" stroke="#0f0" stroke-width="2.5"/>
</g>

<g font-weight="bold" font-size="35.5" text-anchor="middle">
<text x="65.5" y="626">200</text><text x="216.3" y="626">300</text><text x="367.2" y="626">400</text><text x="518.0" y="626">500</text><text x="668.8" y="626">600</text><text x="819.7" y="626">700</text><text x="970.5" y="626">800</text>
</g>
<text x="324.8" y="688" font-size="46" font-weight="bold" letter-spacing="-0.22">Wavelength</text>
<text transform="translate(567.6,688) scale(1.12,1)" font-size="40" font-weight="600" font-family="Noto Serif CJK SC, Liberation Serif, serif">λ</text>
<text x="615.9" y="688" font-size="46" font-weight="bold">(nm)</text>
<text transform="translate(33.8,537.5) rotate(-90)" font-size="46" font-weight="bold">Absorbance &#160;(arb. units)</text>
<g font-size="36" font-weight="bold">
<text x="220" y="476" fill="#000">I</text>
<text x="429" y="498" fill="#f0f">II</text>
<text x="408" y="206" fill="#0f0">III</text>
</g>
<text transform="translate(142.6,385.5) scale(1.08,1)" font-size="29.5" font-weight="500" font-family="Noto Serif CJK SC, Liberation Serif, serif">λ</text><text x="160.2" y="385.3" font-size="35.5"><tspan font-size="21.3" dy="11.8">max</tspan><tspan dy="-11.8">=344 nm</tspan></text>
<text transform="translate(243.8,294.7) scale(1.08,1)" font-size="29.5" font-weight="500" font-family="Noto Serif CJK SC, Liberation Serif, serif">λ</text><text x="261.4" y="294.5" font-size="35.5"><tspan font-size="21.3" dy="11.8">max</tspan><tspan dy="-11.8">=389 nm</tspan></text>
<text transform="translate(595.3,51.7) scale(1.08,1)" font-size="29.5" font-weight="500" font-family="Noto Serif CJK SC, Liberation Serif, serif">λ</text><text x="612.9" y="51.5" font-size="35.5"><tspan font-size="21.3" dy="11.8">max</tspan><tspan dy="-11.8">=524 nm</tspan></text>
<g stroke="#000" stroke-width="1.2">
<line x1="281.5" y1="394.7" x2="281.5" y2="422"/>
<line x1="352.6" y1="298.2" x2="352.6" y2="426"/>
<line x1="584.7" y1="48.7" x2="563" y2="67"/>
</g>
<g fill="#000">
<polygon points="278.2,420.3 285,420.3 284.4,423.5 283.5,428.5 282.2,434 280.8,434 279.5,428.5 278.7,423.5"/>
<polygon points="349.1,424 356.1,424 355.5,427.2 354.6,432.5 353.3,438.6 352,438.6 350.7,432.5 349.7,427.2"/>
<polygon points="556.7,73.7 564.3,62.3 568.8,67.4"/>
</g>
</svg>
</body></html>
